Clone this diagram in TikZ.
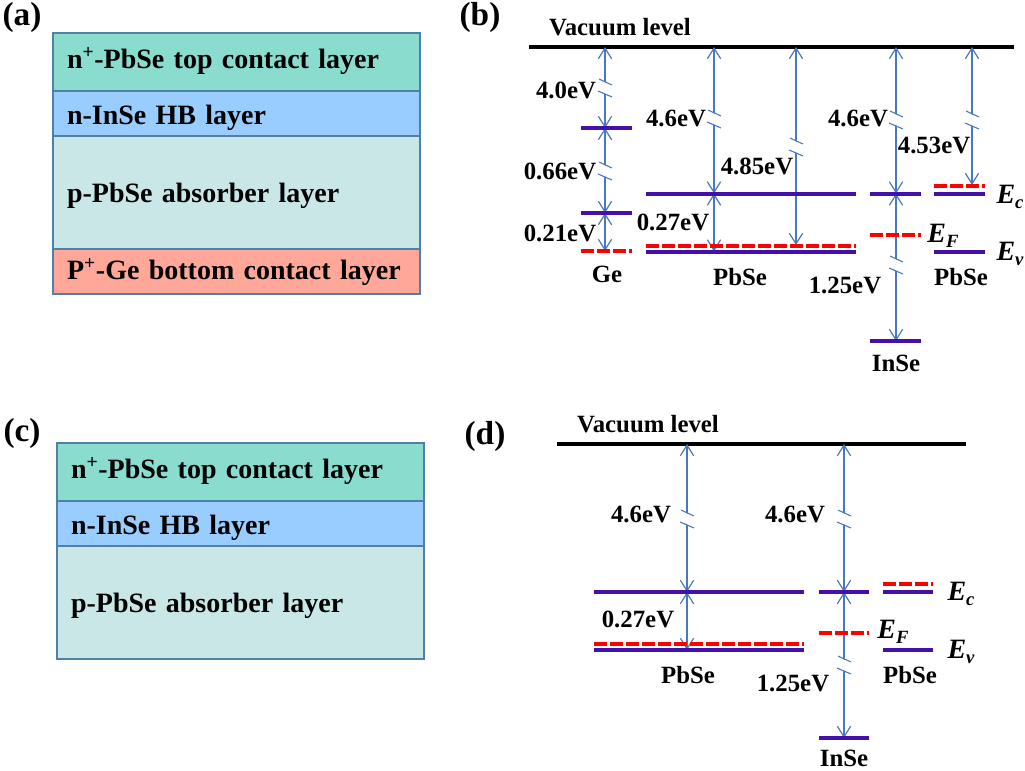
\documentclass[tikz,border=0pt]{standalone}
\usepackage{fontspec}
\setmainfont{Liberation Serif}
\usetikzlibrary{arrows.meta}
\definecolor{lvl}{HTML}{4410A8}
\definecolor{arr}{HTML}{4A78C0}
\definecolor{edge}{HTML}{4F81A6}
\definecolor{topfill}{HTML}{8ADCCF}
\definecolor{hbfill}{HTML}{99CCFF}
\definecolor{absfill}{HTML}{C9E7E7}
\definecolor{botfill}{HTML}{FFA899}
\tikzset{
  x=.75pt,y=-.75pt,
  layer/.style={draw=edge,line width=1.2pt,minimum width=275.25pt,text width=254.25pt,align=left,inner xsep=10.5pt,inner ysep=0pt,font=\bfseries\fontsize{21}{23}\selectfont},
  lab/.style={font=\bfseries\fontsize{18.6}{20}\selectfont,inner sep=0pt},
  panel/.style={font=\bfseries\fontsize{25}{27}\selectfont,inner sep=0pt},
  ener/.style={font=\bfseries\itshape\fontsize{21}{23}\selectfont,inner sep=0pt},
  vac/.style={line width=3pt,black},
  lev/.style={line width=3pt,lvl},
  fermi/.style={line width=3pt,red,dash pattern=on 9.4pt off 2.6pt},
  ebar/.style={line width=.9pt,arr,{Straight Barb[length=8pt,width=10pt,line width=.9pt]}-{Straight Barb[length=8pt,width=10pt,line width=.9pt]}},
  brkline/.style={line width=.8pt,arr},
}
\newcommand{\brk}[2]{%
  \fill[white] (#1-6,#2-8) -- (#1+6,#2-3) -- (#1+6,#2+8) -- (#1-6,#2+3) -- cycle;
  \draw[brkline] (#1-6,#2-9) -- (#1+7,#2-3);
  \draw[brkline] (#1-7,#2+3) -- (#1+7,#2+9);
}
\newcommand{\Esub}[2]{#1\raisebox{-4pt}{\fontsize{14}{14}\selectfont #2}}
\newcommand{\Up}[2]{\raisebox{#1}[0pt][0pt]{#2}}
\begin{document}
\begin{tikzpicture}
\useasboundingbox (0,0) rectangle (1025,771);
% panel (a)
\node[panel] (pa) at (22,17) {(a)};
\node[layer,fill=topfill,minimum height=43.5pt] (a1) at (236.5,62) {\Up{-4.7pt}{n\textsuperscript{+}-PbSe top contact layer}};
\node[layer,fill=hbfill,minimum height=33.75pt] (a2) at (236.5,113.5) {\Up{-7.9pt}{n-InSe HB layer}};
\node[layer,fill=absfill,minimum height=84.75pt] (a3) at (236.5,192.5) {\Up{-7.5pt}{p-PbSe absorber layer}};
\node[layer,fill=botfill,minimum height=33.75pt] (a4) at (236.5,271.5) {\Up{-6pt}{P\textsuperscript{+}-Ge bottom contact layer}};
% panel (c)
\node[panel] (pc) at (22,433) {(c)};
\node[layer,fill=topfill,minimum height=43.5pt] (c1) at (240.5,472) {\Up{-4.7pt}{n\textsuperscript{+}-PbSe top contact layer}};
\node[layer,fill=hbfill,minimum height=33.75pt] (c2) at (240.5,523.5) {\Up{-7.9pt}{n-InSe HB layer}};
\node[layer,fill=absfill,minimum height=84.75pt] (c3) at (240.5,602.5) {\Up{-7.5pt}{p-PbSe absorber layer}};
% panel (b)
\node[panel] (pb) at (480,17) {(b)};
\node[lab] (vb) at (620,27) {Vacuum level};
\coordinate (vbL) at (529,47); \coordinate (vbR) at (1014,47);
\draw[vac] (vbL) -- (vbR);
\foreach \n/\x in {a/605,b/714,c/796,d/896,e/972} \coordinate (bt\n) at (\x,47);
\coordinate (g1) at (605,128); \coordinate (g2) at (605,213); \coordinate (g3) at (605,251);
\coordinate (p1) at (714,193.5); \coordinate (p2) at (714,251.5); \coordinate (p3) at (796,245);
\coordinate (i1) at (896,193.5); \coordinate (i2) at (896,341);
\coordinate (r1) at (972,185);
\draw[ebar] (bta) -- (g1);
\draw[ebar] (g1) -- (g2);
\draw[ebar] (g2) -- (g3);
\draw[ebar] (btb) -- (p1);
\draw[ebar] (p1) -- (p2);
\draw[ebar] (btc) -- (p3);
\draw[ebar] (btd) -- (i1);
\draw[ebar] (i1) -- (i2);
\draw[ebar] (bte) -- (r1);
\brk{605}{88} \brk{605}{171} \brk{714}{119} \brk{796}{147} \brk{896}{120} \brk{896}{265} \brk{972}{120}
\draw[lev] (581,128) -- (632,128);
\draw[lev] (581,213) -- (632,213);
\draw[fermi] (581,251) -- (632,251);
\draw[lev] (646,193.5) -- (856,193.5);
\draw[lev] (646,251.5) -- (856,251.5);
\draw[fermi] (646,245.5) -- (856,245.5);
\draw[lev] (870,193.5) -- (921,193.5);
\draw[fermi] (870,234.5) -- (921,234.5);
\draw[lev] (870,341) -- (921,341);
\draw[fermi] (934,185.5) -- (985,185.5);
\draw[lev] (934,193.5) -- (985,193.5);
\draw[lev] (934,251.5) -- (985,251.5);
\node[lab] (l1) at (566,90) {4.0eV};
\node[lab] (l2) at (560,171) {0.66eV};
\node[lab] (l3) at (560,233) {0.21eV};
\node[lab] (l4) at (607,274) {Ge};
\node[lab] (l5) at (676,118) {4.6eV};
\node[lab] (l6) at (673,222) {0.27eV};
\node[lab] (l7) at (757,166) {4.85eV};
\node[lab] (l8) at (740,277) {PbSe};
\node[lab] (l9) at (845,285) {1.25eV};
\node[lab] (l10) at (858,118) {4.6eV};
\node[lab] (l11) at (934,145) {4.53eV};
\node[lab] (l12) at (896,363) {InSe};
\node[lab] (l13) at (961,277) {PbSe};
\node[ener] (ec1) at (1010,197) {\Esub{E}{c}};
\node[ener] (ef1) at (943,236) {\Esub{E}{F}};
\node[ener] (ev1) at (1010,254) {\Esub{E}{v}};
% panel (d)
\node[panel] (pd) at (485,436) {(d)};
\node[lab] (vd) at (648,424) {Vacuum level};
\coordinate (vdL) at (557,444); \coordinate (vdR) at (966,444);
\draw[vac] (vdL) -- (vdR);
\coordinate (dta) at (687,444); \coordinate (dtb) at (844,444);
\coordinate (q1) at (687,592); \coordinate (q2) at (687,650);
\coordinate (j1) at (844,592); \coordinate (j2) at (844,738);
\draw[ebar] (dta) -- (q1);
\draw[ebar] (q1) -- (q2);
\draw[ebar] (dtb) -- (j1);
\draw[ebar] (j1) -- (j2);
\brk{687}{519} \brk{844}{519} \brk{844}{665}
\draw[lev] (594,592) -- (804,592);
\draw[lev] (594,650) -- (804,650);
\draw[fermi] (594,644) -- (804,644);
\draw[lev] (819,592) -- (869,592);
\draw[fermi] (819,633) -- (869,633);
\draw[lev] (819,738) -- (869,738);
\draw[fermi] (883,584) -- (933,584);
\draw[lev] (883,592) -- (933,592);
\draw[lev] (883,650) -- (933,650);
\node[lab] (m1) at (641,514) {4.6eV};
\node[lab] (m2) at (795,514) {4.6eV};
\node[lab] (m3) at (638,619) {0.27eV};
\node[lab] (m4) at (688,675) {PbSe};
\node[lab] (m5) at (793,683) {1.25eV};
\node[lab] (m6) at (910,675) {PbSe};
\node[lab] (m7) at (844,758) {InSe};
\node[ener] (ec2) at (961,594) {\Esub{E}{c}};
\node[ener] (ef2) at (893,632) {\Esub{E}{F}};
\node[ener] (ev2) at (961,652) {\Esub{E}{v}};
\end{tikzpicture}
\end{document}
